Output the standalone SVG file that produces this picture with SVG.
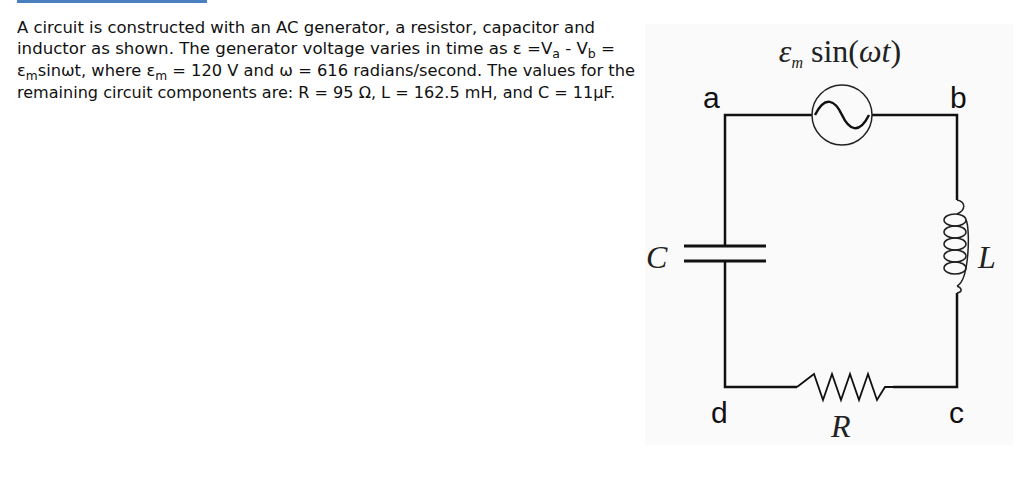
<svg xmlns="http://www.w3.org/2000/svg" width="1024" height="497" viewBox="0 0 1024 497">
<style>
.t{font-family:"DejaVu Sans Condensed","DejaVu Sans",sans-serif;font-size:16px;fill:#111}
.w{fill:none;stroke:#111;stroke-width:2.5}
.th{fill:none;stroke:#222;stroke-width:1.5}
.lb{font-family:"Liberation Sans",Arial,sans-serif;font-size:30px;fill:#111}
.it{font-family:"Liberation Serif","Times New Roman",serif;font-style:italic;font-size:32px;fill:#222}
</style>
<rect width="1024" height="497" fill="#fff"/>
<rect x="17" y="0" width="190" height="3" fill="#4a7fc0"/>
<g id="text">
<text class="t" x="17" y="33" textLength="578" lengthAdjust="spacingAndGlyphs">A circuit is constructed with an AC generator, a resistor, capacitor and</text>
<text class="t" x="17" y="54" textLength="598" lengthAdjust="spacingAndGlyphs">inductor as shown. The generator voltage varies in time as ε =V<tspan font-size="12" dy="4">a</tspan><tspan dy="-4"> - V</tspan><tspan font-size="12" dy="4">b</tspan><tspan dy="-4"> =</tspan></text>
<text class="t" x="17" y="76" textLength="618" lengthAdjust="spacingAndGlyphs">ε<tspan font-size="12" dy="4">m</tspan><tspan dy="-4">sinωt, where ε</tspan><tspan font-size="12" dy="4">m</tspan><tspan dy="-4"> = 120 V and ω = 616 radians/second. The values for the</tspan></text>
<text class="t" x="17" y="98" textLength="598" lengthAdjust="spacingAndGlyphs">remaining circuit components are: R = 95 Ω, L = 162.5 mH, and C = 11μF.</text>
</g>
<rect x="645" y="24" width="368" height="421" fill="#fafafa"/>
<g id="connectors">
<path class="w" d="M812 115 H725 V246 M725 261 V387 H797 M893 387 H957 V293 M957 200 V115 H872"/>
</g>
<g id="generator">
<circle cx="842" cy="115" r="30" class="th" fill="none"/>
<path d="M815 115 C825 95 835 100 842 115 C849 130 859 135 869 115" fill="none" stroke="#111" stroke-width="2.5"/>
<text x="840" y="62" font-family="Liberation Serif,serif" font-size="32" fill="#222" text-anchor="middle"><tspan font-style="italic">ε</tspan><tspan font-style="italic" font-size="16" dy="6">m</tspan><tspan dy="-6"> sin(</tspan><tspan font-style="italic">ωt</tspan>)</text>
</g>
<g id="capacitor">
<path d="M684 246 H766 M684 261 H766" stroke="#111" stroke-width="3"/>
<text class="it" x="646" y="268">C</text>
</g>
<g id="inductor">
<path class="th" d="M957 200 C966 202 966 210 957 214 M957 286 C962 288 963 292 957 293"/>
<ellipse class="th" cx="955" cy="220" rx="11" ry="6"/>
<ellipse class="th" cx="955" cy="232" rx="11" ry="6"/>
<ellipse class="th" cx="955" cy="244" rx="11" ry="6"/>
<ellipse class="th" cx="955" cy="256" rx="11" ry="6"/>
<ellipse class="th" cx="955" cy="268" rx="11" ry="6"/>
<path class="th" d="M966 220 C970 226 970 280 957 286"/>
<text class="it" x="978" y="268">L</text>
</g>
<g id="resistor">
<path d="M797 387 L814 374 L823 400 L832 374 L841 400 L850 374 L859 400 L868 374 L877 400 L885 387 H893" fill="none" stroke="#111" stroke-width="1.8"/>
<text class="it" x="831" y="437">R</text>
</g>
<g id="labels">
<text class="lb" x="703" y="108">a</text>
<text class="lb" x="950" y="108">b</text>
<text class="lb" x="711" y="423">d</text>
<text class="lb" x="949" y="423">c</text>
</g>
</svg>
